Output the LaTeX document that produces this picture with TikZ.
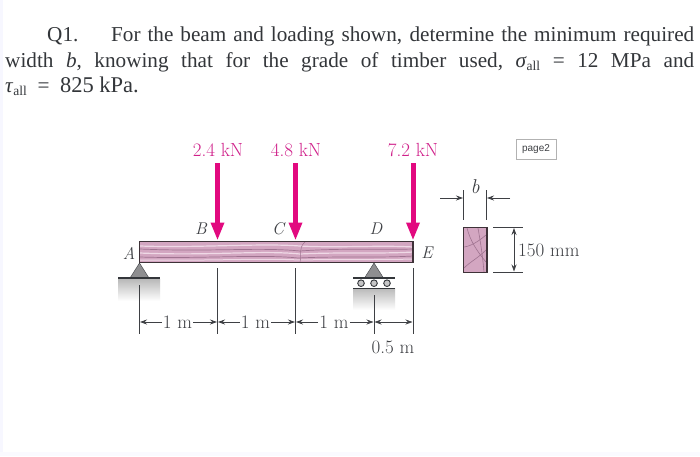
\documentclass[tikz,border=0pt]{standalone}
\usepackage{fontspec}
\newfontfamily\parafont{Liberation Serif}
\setsansfont{Liberation Sans}
\usetikzlibrary{arrows.meta,shadings}
\definecolor{ink}{HTML}{33363A}
\definecolor{dimk}{HTML}{3E4044}
\definecolor{loadc}{HTML}{E2097F}
\definecolor{loadt}{HTML}{D0208A}
\definecolor{wood}{HTML}{D3A6C1}
\definecolor{grain}{HTML}{9F7390}
\definecolor{grainl}{HTML}{EFD9E6}
\definecolor{edgec}{HTML}{3E3238}
\definecolor{trig}{HTML}{8E8E90}
\tikzset{
  x=1pt,y=-1pt,
  para/.style={anchor=base west,inner sep=0,text=ink,font=\parafont\fontsize{21.2}{24}\selectfont},
  lab/.style={inner sep=0,text=dimk,font=\fontsize{19}{20}\selectfont},
  ital/.style={inner sep=0,text=dimk,font=\fontsize{17}{18}\selectfont\itshape},
  loadlab/.style={inner sep=0,text=loadt,font=\fontsize{19}{20}\selectfont},
  loadarrow/.style={draw=loadc,line width=5pt,-{Triangle[length=18pt,width=12.5pt,fill=loadc]}},
  extline/.style={draw=dimk,line width=.9pt},
  dimarrow/.style={draw=dimk,line width=.8pt,{Stealth[length=7pt,width=5pt]}-{Stealth[length=7pt,width=5pt]}},
  onearrow/.style={draw=dimk,line width=.8pt,-{Stealth[length=7pt,width=5pt]}},
  groundline/.style={draw=ink,line width=1.7pt},
  pin/.style={fill=trig,draw=dimk,line width=.4pt},
  roller/.style={circle,draw=ink,fill=trig!50,line width=.9pt,minimum size=6.6pt,inner sep=0},
}
\newcommand{\allsub}{\raisebox{-3.5pt}{\fontsize{13.5}{14}\selectfont all}}
\begin{document}
\begin{tikzpicture}
\useasboundingbox (0,0) rectangle (700,456);
\fill[white] (0,0) rectangle (700,456);
\fill[blue!3] (0,0) rectangle (3,456);
\fill[blue!2] (0,452) rectangle (700,456);

% text
\node[para] (l1a) at (47,41) {Q1.};
\node[para] (l1b) at (111,41) {\makebox[583pt][s]{For the beam and loading shown, determine the minimum required}};
\node[para] (l2) at (5,67) {\makebox[689pt][s]{width\hfill\ \textit{b},\hfill\ knowing\hfill\ that\hfill\ for\hfill\ the\hfill\ grade\hfill\ of\hfill\ timber\hfill\ used,\hfill\ \textit{σ}\allsub\hfill\ =\hfill\ 12\hfill\ MPa\hfill\ and}};
\node[para] (l3) at (5,92) {\textit{τ}\allsub\ \ =\ \ {\fontsize{22.5}{24}\selectfont 825 kPa.}};

% beam
\fill[wood] (139.5,241.5) rectangle (413,262.7);
\draw[grainl,line width=1.2pt] (140,246) .. controls (200,248) and (260,243) .. (300,246) .. controls (340,248) and (380,245) .. (413,247);
\draw[grain,line width=.7pt] (140,249) .. controls (210,252) and (260,247) .. (300,251) .. controls (340,248) and (380,250) .. (413,249);
\draw[grainl,line width=1.2pt] (140,253) .. controls (210,256) and (260,250) .. (300,254) .. controls (340,252) and (380,254) .. (413,252);
\draw[grain,line width=.7pt] (140,257) .. controls (200,259) and (260,254) .. (298,258) .. controls (340,256) and (380,258) .. (413,256);
\draw[grainl,line width=1pt] (140,260) .. controls (210,261) and (260,258) .. (300,260) .. controls (340,259) and (380,260) .. (413,259);
\draw[grain,line width=.5pt] (305,242) .. controls (298,248) and (302,254) .. (300,262);
\draw[edgec,line width=1.5pt] (139.5,241.5) rectangle (413,262.7);

% loads
\node[loadlab] (P1) at (218,150) {2.4 kN};
\node[loadlab] (P2) at (296,150) {4.8 kN};
\node[loadlab] (P3) at (413,150) {7.2 kN};
\coordinate (t1) at (217.5,163); \coordinate (h1) at (217.5,240.5);
\coordinate (t2) at (295.5,163); \coordinate (h2) at (295.5,240.5);
\coordinate (t3) at (413,163);   \coordinate (h3) at (413,240.5);
\draw[loadarrow] (t1) -- (h1);
\draw[loadarrow] (t2) -- (h2);
\draw[loadarrow] (t3) -- (h3);

% point labels
\node[ital] (A) at (129,253) {A};
\node[ital] (B) at (201,229) {B};
\node[ital] (C) at (278,229) {C};
\node[ital] (D) at (376,229) {D};
\node[ital] (E) at (427,253) {E};

% support A
\shade[top color=gray!55,bottom color=white] (118,279) rectangle (160,301);
\draw[pin] (139.5,263) -- (130,278) -- (149,278) -- cycle;
\draw[groundline] (118,278) -- (160,278);

% support D
\shade[top color=gray!55,bottom color=white] (353,288) rectangle (395,310);
\draw[pin] (374,263) -- (364.5,278) -- (383.5,278) -- cycle;
\draw[groundline] (353,278) -- (395,278);
\draw[draw=ink,line width=1pt] (353,288) -- (395,288);
\node[roller] (r1) at (361,283.2) {};
\node[roller] (r2) at (374,283.2) {};
\node[roller] (r3) at (387,283.2) {};

% dimension extension lines
\coordinate (a0) at (139.5,285); \coordinate (a1) at (139.5,334);
\coordinate (b0) at (217.5,268); \coordinate (b1) at (217.5,334);
\coordinate (c0) at (295.5,268); \coordinate (c1) at (295.5,334);
\coordinate (d0) at (374,295);   \coordinate (d1) at (374,334);
\coordinate (e0) at (413,268);   \coordinate (e1) at (413,334);
\draw[extline] (a0) -- (a1);
\draw[extline] (b0) -- (b1);
\draw[extline] (c0) -- (c1);
\draw[extline] (d0) -- (d1);
\draw[extline] (e0) -- (e1);

% dimensions
\node[lab,inner xsep=1pt] (m1) at (177.5,322) {1 m};
\node[lab,inner xsep=1pt] (m2) at (255.5,322) {1 m};
\node[lab,inner xsep=1pt] (m3) at (334,322) {1 m};
\coordinate (a2) at (140,322); \coordinate (b2l) at (217,322); \coordinate (b2r) at (218,322);
\coordinate (c2l) at (295,322); \coordinate (c2r) at (296,322); \coordinate (d2l) at (373.5,322);
\coordinate (d2r) at (374.5,322); \coordinate (e2) at (412.5,322);
\draw[onearrow] (m1.west) -- (a2);
\draw[onearrow] (m1.east) -- (b2l);
\draw[onearrow] (m2.west) -- (b2r);
\draw[onearrow] (m2.east) -- (c2l);
\draw[onearrow] (m3.west) -- (c2r);
\draw[onearrow] (m3.east) -- (d2l);
\draw[dimarrow] (d2r) -- (e2);
\node[lab] (half) at (393,347) {0.5 m};

% section
\fill[wood] (463,227) rectangle (487,272.7);
\draw[grain,line width=.6pt] (467,228) .. controls (470,240) and (476,250) .. (486,262);
\draw[grain,line width=.6pt] (478,228) .. controls (480,240) and (482,250) .. (484,272);
\draw[grain,line width=.6pt] (464,247) .. controls (472,246) and (480,240) .. (486,235);
\draw[grain,line width=.6pt] (464,268) .. controls (470,262) and (478,258) .. (486,250);
\draw[edgec,line width=1.5pt] (463.5,227.5) rectangle (487,272.5);

% b dimension
\coordinate (s1t) at (463.5,190); \coordinate (s1b) at (463.5,220);
\coordinate (s2t) at (486.5,190); \coordinate (s2b) at (486.5,220);
\draw[extline] (s1t) -- (s1b);
\draw[extline] (s2t) -- (s2b);
\coordinate (bl0) at (440,198); \coordinate (bl1) at (463,198);
\coordinate (br0) at (510,198); \coordinate (br1) at (487,198);
\draw[onearrow] (bl0) -- (bl1);
\draw[onearrow] (br0) -- (br1);
\node[ital,font=\fontsize{20}{20}\selectfont\itshape] (bb) at (475,187) {b};

% 150 mm dimension
\coordinate (h1l) at (493,227.5); \coordinate (h1r) at (523,227.5);
\coordinate (h2l) at (493,272); \coordinate (h2r) at (523,272);
\draw[extline] (h1l) -- (h1r);
\draw[extline] (h2l) -- (h2r);
\coordinate (ht) at (514,228); \coordinate (hb) at (514,271.5);
\draw[dimarrow] (ht) -- (hb);
\node[lab,anchor=west] (mm) at (518,250) {150 mm};

% page box
\node[draw=gray!60,line width=.6pt,minimum width=40pt,minimum height=20pt,inner sep=0,text=dimk,font=\sffamily\fontsize{10}{11}\selectfont] (pg) at (536,149) {page2};
\end{tikzpicture}
\end{document}
